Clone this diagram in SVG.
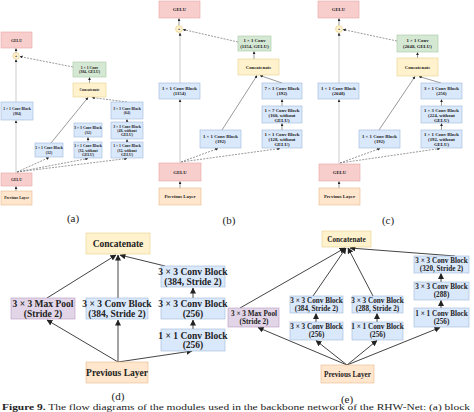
<svg xmlns="http://www.w3.org/2000/svg" width="474" height="412" viewBox="0 0 474 412">
<defs>
<style>
text{font-family:"Liberation Serif","Times New Roman",serif;font-weight:bold;fill:#222;text-anchor:middle}
.pk{fill:#f8cecc;stroke:#e3a5a3;stroke-width:.6}
.yl{fill:#fff2cc;stroke:#e6cf8e;stroke-width:.6}
.gr{fill:#d5e8d4;stroke:#a6c8a2;stroke-width:.6}
.bl{fill:#dae8fc;stroke:#9fb7d9;stroke-width:.6}
.pu{fill:#e1d5e7;stroke:#b79ac4;stroke-width:.6}
.or{fill:#ffe6cc;stroke:#e6b98c;stroke-width:.6}
.s{font-size:3.8px}
.m{font-size:4.8px}
.l{font-size:9.5px}
.e{font-size:7.2px}
.lab{font-weight:normal;font-size:11px}
.c{stroke:#555;stroke-width:.6;fill:none;marker-end:url(#ah)}
.cd{stroke:#555;stroke-width:.6;fill:none;stroke-dasharray:2 1.2;marker-end:url(#ah)}
.cf{stroke:#aaa;stroke-width:.6;fill:none;marker-end:url(#ah)}
.C{stroke:#444;stroke-width:1;fill:none;marker-end:url(#AH)}
</style>
<marker id="ah" viewBox="0 0 6 6" refX="5.5" refY="3" markerWidth="3" markerHeight="3" markerUnits="userSpaceOnUse" orient="auto"><path d="M0,0L6,3L0,6z" fill="#222"/></marker>
<marker id="AH" viewBox="0 0 6 6" refX="5.5" refY="3" markerWidth="6" markerHeight="6" markerUnits="userSpaceOnUse" orient="auto"><path d="M0,0L6,3L0,6z" fill="#222"/></marker>
</defs>
<rect width="474" height="412" fill="#fff"/>

<g id="connectors">
<!-- (a) -->
<path class="c" d="M16,191V186.5"/>
<path class="cf" d="M16,173V120.5"/>
<path class="cf" d="M16,102V59.5"/>
<path class="c" d="M16,53V48.5"/>
<path class="cd" d="M73,67L19.8,56.5"/>
<path class="c" d="M89.5,83V77.5"/>
<path class="c" d="M51,143L88,97.5"/>
<path class="cd" d="M127,102L92,97.5"/>
<path class="c" d="M127,142V139.5"/>
<path class="c" d="M127,122V119.5"/>
<path class="c" d="M88,142V137.5"/>
<path class="cd" d="M17,172L49,157.5"/>
<path class="cd" d="M17,172L88,158.5"/>
<path class="cd" d="M17,172L127,158.5"/>
<!-- (b) -->
<path class="c" d="M180,188V181.5"/>
<path class="cf" d="M180,163V99.5"/>
<path class="cf" d="M180,83V33"/>
<path class="c" d="M179,25.5V18.5"/>
<path class="cd" d="M238,42L183,29.5"/>
<path class="c" d="M254,59V51.5"/>
<path class="c" d="M222,130L257,75.5"/>
<path class="c" d="M282,83L260,75.5"/>
<path class="c" d="M282,130V123.5"/>
<path class="c" d="M282,106V99.5"/>
<path class="cd" d="M181,162L218,148.5"/>
<path class="cd" d="M181,162L280,148.5"/>
<!-- (c) -->
<path class="c" d="M339,188V181.5"/>
<path class="cf" d="M339,164V99.5"/>
<path class="cf" d="M339,83V33"/>
<path class="c" d="M339,25.5V18.5"/>
<path class="cd" d="M397,41L343,29.5"/>
<path class="c" d="M417.5,58V52.5"/>
<path class="c" d="M379,130L415,76.5"/>
<path class="c" d="M441,83L419,76.5"/>
<path class="c" d="M441.5,130V123.5"/>
<path class="c" d="M441.5,106V99.5"/>
<path class="cd" d="M340,163L380,148.5"/>
<path class="cd" d="M340,163L440,148.5"/>
<!-- (d) -->
<path class="C" d="M118,362L47,320"/>
<path class="C" d="M118,362V320"/>
<path class="C" d="M118,362L192,351"/>
<path class="C" d="M47,298L116,255"/>
<path class="C" d="M118,298V255"/>
<path class="C" d="M165,266L120,255"/>
<path class="C" d="M193,329V320"/>
<path class="C" d="M193,298V288"/>
<!-- (e) -->
<path class="C" d="M347,365L258,327.5"/>
<path class="C" d="M347,365L316,340.5"/>
<path class="C" d="M347,365L377,340.5"/>
<path class="C" d="M347,365L440,327.5"/>
<path class="C" d="M240,308L345,248"/>
<path class="C" d="M313,296L346,248"/>
<path class="C" d="M373,296L348,248"/>
<path class="C" d="M455,256L350,248"/>
<path class="C" d="M316,322V313.5"/>
<path class="C" d="M377,322V313.5"/>
<path class="C" d="M441,308V300.5"/>
<path class="C" d="M441,282V273.5"/>
</g>

<!-- panel (a) -->
<g id="a_gelu_out"><rect class="pk" x="1" y="32" width="31" height="16"/><text class="s" x="16.5" y="41.5">GELU</text></g>
<g id="a_plus"><circle cx="16" cy="56" r="3.3" fill="#fff2cc" stroke="#e0c27a" stroke-width=".5"/><text class="s" x="16" y="57.4">+</text></g>
<g id="a_conv_out"><rect class="gr" x="73" y="62" width="33" height="15"/><text class="s" x="89.5" y="68.5">1 × 1 Conv</text><text class="s" x="89.5" y="73.3">(384, GELU)</text></g>
<g id="a_concat"><rect class="yl" x="73" y="83" width="33" height="14"/><text class="s" x="89.5" y="91.3">Concatenate</text></g>
<g id="a_res"><rect class="bl" x="1" y="102" width="32" height="18"/><text class="s" x="17" y="110">1 × 1 Conv Block</text><text class="s" x="17" y="114.8">(384)</text></g>
<g id="a_b3_3"><rect class="bl" x="111" y="102" width="32" height="17"/><text class="s" x="127" y="109.5">3 × 3 Conv Block</text><text class="s" x="127" y="114.3">(64)</text></g>
<g id="a_b3_2"><rect class="bl" x="111" y="122" width="32" height="17"/><text class="s" x="127" y="127.5">3 × 3 Conv Block</text><text class="s" x="127" y="131.8">(48, without</text><text class="s" x="127" y="136.1">GELU)</text></g>
<g id="a_b3_1"><rect class="bl" x="111" y="142" width="32" height="16"/><text class="s" x="127" y="147.3">1 × 1 Conv Block</text><text class="s" x="127" y="151.6">(32, without</text><text class="s" x="127" y="155.9">GELU)</text></g>
<g id="a_b2_2"><rect class="bl" x="74" y="123" width="28" height="14"/><text class="s" x="88" y="129">3 × 3 Conv Block</text><text class="s" x="88" y="133.6">(32)</text></g>
<g id="a_b2_1"><rect class="bl" x="74" y="142" width="28" height="16"/><text class="s" x="88" y="147.3">1 × 1 Conv Block</text><text class="s" x="88" y="151.6">(32, without</text><text class="s" x="88" y="155.9">GELU)</text></g>
<g id="a_b1"><rect class="bl" x="35" y="143" width="28" height="14"/><text class="s" x="49" y="149">1 × 1 Conv Block</text><text class="s" x="49" y="153.6">(32)</text></g>
<g id="a_gelu"><rect class="pk" x="1" y="173" width="31" height="13"/><text class="s" x="16.5" y="180.8">GELU</text></g>
<g id="a_prev"><rect class="or" x="1" y="191" width="31" height="14"/><text class="s" x="16.5" y="199.3">Previous Layer</text></g>
<text class="lab" x="73" y="222">(a)</text>

<!-- panel (b) -->
<g id="b_gelu_out"><rect class="pk" x="159" y="1" width="41" height="17"/><text class="m" x="179.5" y="11.2">GELU</text></g>
<g id="b_plus"><circle cx="179" cy="29" r="3.5" fill="#fff2cc" stroke="#e0c27a" stroke-width=".5"/><text class="s" x="179" y="30.4">+</text></g>
<g id="b_conv_out"><rect class="gr" x="238" y="36" width="33" height="15"/><text class="m" x="254.5" y="42.4">1 × 1 Conv</text><text class="m" x="254.5" y="48">(1154, GELU)</text></g>
<g id="b_concat"><rect class="yl" x="238" y="59" width="41" height="16"/><text class="m" x="258.5" y="68.6">Concatenate</text></g>
<g id="b_res"><rect class="bl" x="159" y="83" width="41" height="16"/><text class="m" x="179.5" y="89.8">1 × 1 Conv Block</text><text class="m" x="179.5" y="95.4">(1154)</text></g>
<g id="b_7x1"><rect class="bl" x="262" y="83" width="40" height="16"/><text class="m" x="282" y="89.8">7 × 1 Conv Block</text><text class="m" x="282" y="95.4">(192)</text></g>
<g id="b_1x7"><rect class="bl" x="262" y="106" width="40" height="17"/><text class="m" x="282" y="111.6">1 × 7 Conv Block</text><text class="m" x="282" y="116.6">(160, without</text><text class="m" x="282" y="121.6">GELU)</text></g>
<g id="b_1x1_128"><rect class="bl" x="262" y="130" width="40" height="18"/><text class="m" x="282" y="136">1 × 1 Conv Block</text><text class="m" x="282" y="141">(128, without</text><text class="m" x="282" y="146">GELU)</text></g>
<g id="b_1x1_192"><rect class="bl" x="200" y="130" width="41" height="18"/><text class="m" x="220.5" y="137.6">1 × 1 Conv Block</text><text class="m" x="220.5" y="143.2">(192)</text></g>
<g id="b_gelu"><rect class="pk" x="159" y="163" width="42" height="18"/><text class="m" x="180" y="173.6">GELU</text></g>
<g id="b_prev"><rect class="or" x="159" y="188" width="42" height="17"/><text class="m" x="180" y="198.2">Previous Layer</text></g>
<text class="lab" x="229" y="224">(b)</text>

<!-- panel (c) -->
<g id="c_gelu_out"><rect class="pk" x="318" y="1" width="41" height="17"/><text class="m" x="338.5" y="11.2">GELU</text></g>
<g id="c_plus"><circle cx="339" cy="29" r="3.5" fill="#fff2cc" stroke="#e0c27a" stroke-width=".5"/><text class="s" x="339" y="30.4">+</text></g>
<g id="c_conv_out"><rect class="gr" x="397" y="35" width="41" height="17"/><text class="m" x="417.5" y="42.2">1 × 1 Conv</text><text class="m" x="417.5" y="47.8">(2048, GELU)</text></g>
<g id="c_concat"><rect class="yl" x="397" y="58" width="41" height="18"/><text class="m" x="417.5" y="68.6">Concatenate</text></g>
<g id="c_res"><rect class="bl" x="318" y="83" width="41" height="16"/><text class="m" x="338.5" y="89.8">1 × 1 Conv Block</text><text class="m" x="338.5" y="95.4">(2048)</text></g>
<g id="c_3x1"><rect class="bl" x="421" y="83" width="41" height="16"/><text class="m" x="441.5" y="89.8">3 × 1 Conv Block</text><text class="m" x="441.5" y="95.4">(256)</text></g>
<g id="c_1x3"><rect class="bl" x="421" y="106" width="41" height="17"/><text class="m" x="441.5" y="111.6">1 × 3 Conv Block</text><text class="m" x="441.5" y="116.6">(224, without</text><text class="m" x="441.5" y="121.6">GELU)</text></g>
<g id="c_1x1_192w"><rect class="bl" x="421" y="130" width="41" height="18"/><text class="m" x="441.5" y="136">1 × 1 Conv Block</text><text class="m" x="441.5" y="141">(192, without</text><text class="m" x="441.5" y="146">GELU)</text></g>
<g id="c_1x1_192"><rect class="bl" x="359" y="130" width="41" height="18"/><text class="m" x="379.5" y="137.6">1 × 1 Conv Block</text><text class="m" x="379.5" y="143.2">(192)</text></g>
<g id="c_gelu"><rect class="pk" x="319" y="164" width="41" height="17"/><text class="m" x="339.5" y="174.2">GELU</text></g>
<g id="c_prev"><rect class="or" x="319" y="188" width="41" height="17"/><text class="m" x="339.5" y="198.2">Previous Layer</text></g>
<text class="lab" x="388" y="224">(c)</text>

<!-- panel (d) -->
<g id="d_concat"><rect class="yl" x="86" y="233" width="64" height="21"/><text class="l" x="118" y="246.8">Concatenate</text></g>
<g id="d_maxpool"><rect class="pu" x="11" y="298" width="64" height="21"/><text class="l" x="43" y="307">3 × 3 Max Pool</text><text class="l" x="43" y="316.5">(Stride 2)</text></g>
<g id="d_conv_mid"><rect class="bl" x="86" y="298" width="62" height="21"/><text class="l" x="117" y="307">3 × 3 Conv Block</text><text class="l" x="117" y="316.5">(384, Stride 2)</text></g>
<g id="d_conv_r3"><rect class="bl" x="161" y="266" width="64" height="21"/><text class="l" x="193" y="275">3 × 3 Conv Block</text><text class="l" x="193" y="284.5">(384, Stride 2)</text></g>
<g id="d_conv_r2"><rect class="bl" x="161" y="298" width="64" height="21"/><text class="l" x="193" y="307">3 × 3 Conv Block</text><text class="l" x="193" y="316.5">(256)</text></g>
<g id="d_conv_r1"><rect class="bl" x="161" y="329" width="64" height="22"/><text class="l" x="193" y="338.5">1 × 1 Conv Block</text><text class="l" x="193" y="348">(256)</text></g>
<g id="d_prev"><rect class="or" x="86" y="362" width="62" height="21"/><text class="l" x="117" y="375.8">Previous Layer</text></g>
<text class="lab" x="118" y="400">(d)</text>

<!-- panel (e) -->
<g id="e_concat"><rect class="yl" x="322" y="231" width="49" height="16"/><text class="e" x="346.5" y="241.6">Concatenate</text></g>
<g id="e_maxpool"><rect class="pu" x="228" y="308" width="51" height="19"/><text class="e" x="254" y="315.6">3 × 3 Max Pool</text><text class="e" x="254" y="323.6">(Stride 2)</text></g>
<g id="e_c2_2"><rect class="bl" x="290" y="296" width="53" height="17"/><text class="e" x="316.5" y="302.8">3 × 3 Conv Block</text><text class="e" x="316.5" y="310.6">(384, Stride 2)</text></g>
<g id="e_c2_1"><rect class="bl" x="290" y="322" width="53" height="18"/><text class="e" x="316.5" y="329.3">3 × 3 Conv Block</text><text class="e" x="316.5" y="337.1">(256)</text></g>
<g id="e_c3_2"><rect class="bl" x="352" y="296" width="51" height="17"/><text class="e" x="377.5" y="302.8">3 × 3 Conv Block</text><text class="e" x="377.5" y="310.6">(288, Stride 2)</text></g>
<g id="e_c3_1"><rect class="bl" x="352" y="322" width="51" height="18"/><text class="e" x="377.5" y="329.3">1 × 1 Conv Block</text><text class="e" x="377.5" y="337.1">(256)</text></g>
<g id="e_c4_3"><rect class="bl" x="414" y="256" width="55" height="17"/><text class="e" x="441.5" y="262.8">3 × 3 Conv Block</text><text class="e" x="441.5" y="270.6">(320, Stride 2)</text></g>
<g id="e_c4_2"><rect class="bl" x="414" y="282" width="55" height="18"/><text class="e" x="441.5" y="289.3">3 × 3 Conv Block</text><text class="e" x="441.5" y="297.1">(288)</text></g>
<g id="e_c4_1"><rect class="bl" x="414" y="308" width="55" height="19"/><text class="e" x="441.5" y="315.6">1 × 1 Conv Block</text><text class="e" x="441.5" y="323.6">(256)</text></g>
<g id="e_prev"><rect class="or" x="321" y="365" width="53" height="18"/><text class="e" x="347.5" y="376.6">Previous Layer</text></g>
<text class="lab" x="347" y="403">(e)</text>

<text x="2" y="410" textLength="468" lengthAdjust="spacingAndGlyphs" style="font-size:7.5px;text-anchor:start;font-weight:normal"><tspan font-weight="bold">Figure 9.</tspan> The flow diagrams of the modules used in the backbone network of the RHW-Net: (a) block</text>
</svg>
